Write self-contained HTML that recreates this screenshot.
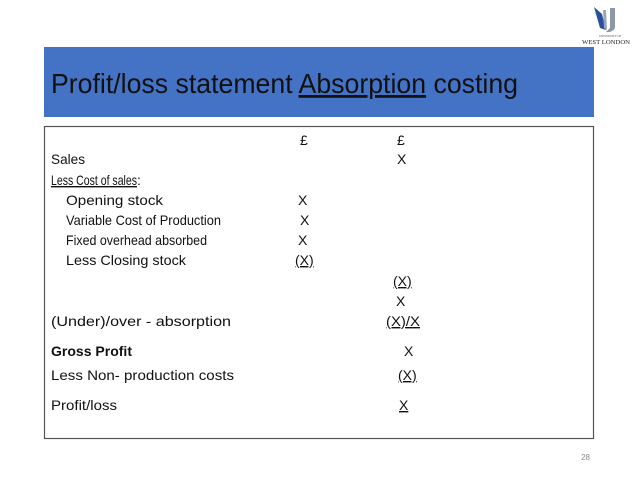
<!DOCTYPE html>
<html><head><meta charset="utf-8"><style>
html,body{margin:0;padding:0;background:#fff;}
svg{display:block;font-family:"Liberation Sans",sans-serif;}
</style></head><body>
<svg width="638" height="478" viewBox="0 0 638 478">
  <g>
    <path d="M594 7 L602 14 L606 30 L600 28 Z" fill="#2a4f9e"/>
    <path d="M603 10 L606 10 L607 30 L604 28 Z" fill="#9aa6b8"/>
    <path d="M610 8 L615 8 L615 28 Q612 33 606 32 L610 28 Z" fill="#8c97a8"/>
    <text x="610" y="37" font-size="3" fill="#555" text-anchor="middle" font-family="Liberation Serif,serif">UNIVERSITY OF</text>
    <text x="606" y="44" font-size="6.5" fill="#222" text-anchor="middle" font-family="Liberation Serif,serif" textLength="48" lengthAdjust="spacingAndGlyphs">WEST LONDON</text>
  </g>
  <rect x="44" y="47" width="550" height="70" fill="#4472c4"/>
  <text x="51" y="93" font-size="28" fill="#111" textLength="467" lengthAdjust="spacingAndGlyphs">Profit/loss statement <tspan text-decoration="underline">Absorption</tspan> costing</text>
  <rect x="44.5" y="126.5" width="549" height="312" fill="none" stroke="#555" stroke-width="1.2"/>
  <g font-size="14" fill="#111">
    <text x="300" y="145">£</text><text x="397" y="145">£</text>
    <text x="51" y="164" textLength="34" lengthAdjust="spacingAndGlyphs">Sales</text><text x="397" y="164">X</text>
    <text x="51" y="185" textLength="86" lengthAdjust="spacingAndGlyphs" text-decoration="underline">Less Cost of sales</text><text x="137" y="185">:</text>
    <text x="66" y="205" textLength="97" lengthAdjust="spacingAndGlyphs">Opening stock</text><text x="298" y="205">X</text>
    <text x="66" y="225" textLength="155" lengthAdjust="spacingAndGlyphs">Variable Cost of Production</text><text x="300" y="225">X</text>
    <text x="66" y="245" textLength="141" lengthAdjust="spacingAndGlyphs">Fixed overhead absorbed</text><text x="298" y="245">X</text>
    <text x="66" y="265" textLength="120" lengthAdjust="spacingAndGlyphs">Less Closing stock</text><text x="295" y="265" text-decoration="underline">(X)</text>
    <text x="393" y="286" text-decoration="underline">(X)</text>
    <text x="396" y="306">X</text>
    <text x="51" y="326" textLength="180" lengthAdjust="spacingAndGlyphs">(Under)/over  - absorption</text><text x="386" y="326" text-decoration="underline" textLength="34" lengthAdjust="spacingAndGlyphs">(X)/X</text>
    <text x="51" y="356" font-weight="bold" textLength="81" lengthAdjust="spacingAndGlyphs">Gross Profit</text><text x="404" y="356">X</text>
    <text x="51" y="380" textLength="183" lengthAdjust="spacingAndGlyphs">Less Non- production costs</text><text x="398" y="380" text-decoration="underline">(X)</text>
    <text x="51" y="410" textLength="66" lengthAdjust="spacingAndGlyphs">Profit/loss</text><text x="399" y="410" text-decoration="underline"> X</text>
  </g>
  <text x="590" y="460" font-size="8" fill="#888" text-anchor="end">28</text>
</svg>
</body></html>
